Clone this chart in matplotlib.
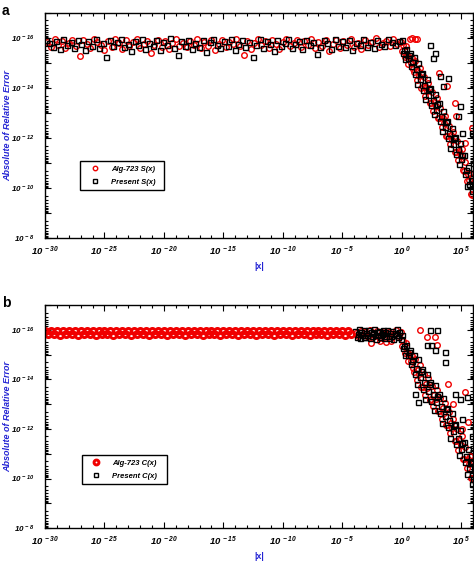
import matplotlib as mpl
mpl.use('Agg')

import numpy as np
import matplotlib.pyplot as plt
from matplotlib.ticker import FixedLocator, FuncFormatter, NullFormatter

plt.rcParams['font.family'] = ['Liberation Sans', 'DejaVu Sans']
plt.rcParams['mathtext.fontset'] = 'custom'
plt.rcParams['mathtext.rm'] = 'Liberation Sans:italic:bold'
plt.rcParams['mathtext.it'] = 'Liberation Sans:italic:bold'
plt.rcParams['mathtext.bf'] = 'Liberation Sans:italic:bold'

# all data are log10 values

# ---- panel a : S(x) ----
a_band_pre_x = [-29.95, -29.65, -29.35, -29.05, -28.75, -28.45, -28.15, -27.85, -27.55, -27.25,
                -26.95, -26.65, -26.35, -26.05, -25.75, -25.45, -25.15, -24.85, -24.55, -24.25,
                -23.95, -23.65, -23.35, -23.05, -22.75, -22.45, -22.15, -21.85, -21.55, -21.25,
                -20.95, -20.65, -20.35, -20.05, -19.75, -19.45, -19.15, -18.85, -18.55, -18.25,
                -17.95, -17.65, -17.35, -17.05, -16.75, -16.45, -16.15, -15.85, -15.55, -15.25,
                -14.95, -14.65, -14.35, -14.05, -13.75, -13.45, -13.15, -12.85, -12.55, -12.25,
                -11.95, -11.65, -11.35, -11.05, -10.75, -10.45, -10.15, -9.85, -9.55, -9.25,
                -8.95, -8.65, -8.35, -8.05, -7.75, -7.45, -7.15, -6.85, -6.55, -6.25,
                -5.95, -5.65, -5.35, -5.05, -4.75, -4.45, -4.15, -3.85, -3.55, -3.25,
                -2.95, -2.65, -2.35, -2.05, -1.75, -1.45, -1.15, -0.85, -0.55, -0.25]
a_band_pre_y = [-15.92, -15.78, -15.65, -15.88, -15.55, -15.97, -15.70, -15.83, -15.60, -15.93,
                -15.74, -15.50, -15.86, -15.68, -15.95, -15.58, -15.80, -15.22, -15.90, -15.66,
                -15.84, -15.96, -15.62, -15.75, -15.48, -15.89, -15.71, -15.94, -15.57, -15.81,
                -15.67, -15.91, -15.53, -15.85, -15.73, -15.98, -15.61, -15.30, -15.87, -15.69,
                -15.93, -15.56, -15.79, -15.64, -15.90, -15.45, -15.82, -15.95, -15.72, -15.59,
                -15.88, -15.66, -15.97, -15.52, -15.77, -15.91, -15.63, -15.84, -15.25, -15.70,
                -15.94, -15.58, -15.86, -15.74, -15.49, -15.92, -15.67, -15.81, -15.96, -15.60,
                -15.76, -15.89, -15.54, -15.93, -15.71, -15.83, -15.35, -15.65, -15.90, -15.78,
                -15.57, -15.95, -15.69, -15.87, -15.62, -15.92, -15.50, -15.80, -15.73, -15.97,
                -15.64, -15.85, -15.59, -15.91, -15.75, -15.68, -15.94, -15.82, -15.70, -15.88]
a_band_alg_x = [-29.80, -29.50, -29.20, -28.90, -28.60, -28.30, -28.00, -27.70, -27.40, -27.10,
                -26.80, -26.50, -26.20, -25.90, -25.60, -25.30, -25.00, -24.70, -24.40, -24.10,
                -23.80, -23.50, -23.20, -22.90, -22.60, -22.30, -22.00, -21.70, -21.40, -21.10,
                -20.80, -20.50, -20.20, -19.90, -19.60, -19.30, -19.00, -18.70, -18.40, -18.10,
                -17.80, -17.50, -17.20, -16.90, -16.60, -16.30, -16.00, -15.70, -15.40, -15.10,
                -14.80, -14.50, -14.20, -13.90, -13.60, -13.30, -13.00, -12.70, -12.40, -12.10,
                -11.80, -11.50, -11.20, -10.90, -10.60, -10.30, -10.00, -9.70, -9.40, -9.10,
                -8.80, -8.50, -8.20, -7.90, -7.60, -7.30, -7.00, -6.70, -6.40, -6.10,
                -5.80, -5.50, -5.20, -4.90, -4.60, -4.30, -4.00, -3.70, -3.40, -3.10,
                -2.80, -2.50, -2.20, -1.90, -1.60, -1.30, -1.00, -0.70, -0.40, -0.10]
a_band_alg_y = [-15.85, -15.62, -15.95, -15.72, -15.88, -15.58, -15.80, -15.93, -15.67, -15.28,
                -15.90, -15.76, -15.60, -15.97, -15.83, -15.70, -15.52, -15.87, -15.64, -15.94,
                -15.79, -15.56, -15.91, -15.68, -15.84, -15.96, -15.61, -15.74, -15.89, -15.40,
                -15.73, -15.92, -15.65, -15.86, -15.55, -15.81, -15.95, -15.69, -15.78, -15.63,
                -15.88, -15.71, -15.97, -15.59, -15.83, -15.66, -15.93, -15.50, -15.77, -15.90,
                -15.62, -15.85, -15.74, -15.96, -15.68, -15.32, -15.89, -15.57, -15.80, -15.94,
                -15.70, -15.87, -15.61, -15.92, -15.75, -15.54, -15.84, -15.97, -15.66, -15.79,
                -15.91, -15.63, -15.86, -15.72, -15.95, -15.58, -15.82, -15.69, -15.90, -15.47,
                -15.76, -15.93, -15.60, -15.88, -15.73, -15.96, -15.65, -15.81, -15.55, -15.92,
                -15.70, -15.85, -15.98, -15.62, -15.78, -15.89, -15.67, -15.94, -15.74, -15.83]

a_tail_pre_x = [0.0, 0.1, 0.2, 0.3, 0.4, 0.5, 0.6, 0.7, 0.8, 0.9,
                1.0, 1.1, 1.2, 1.3, 1.4, 1.5, 1.6, 1.7, 1.8, 1.9,
                2.0, 2.1, 2.2, 2.3, 2.4, 2.5, 2.6, 2.7, 2.8, 2.9,
                3.0, 3.1, 3.2, 3.3, 3.4, 3.5, 3.6, 3.7, 3.8, 3.9,
                4.0, 4.1, 4.2, 4.3, 4.4, 4.5, 4.6, 4.7, 4.8, 4.9,
                5.0, 5.1, 5.2, 5.3, 5.4, 5.5, 5.6, 5.7, 5.8, 5.9,
                2.4, 2.8, 2.6, 3.2, 3.9, 4.9, 4.7, 5.1, 3.5,
                5.95, 5.97, 5.93, 5.98]
a_tail_pre_y = [-15.90, -15.38, -15.51, -15.14, -15.57, -15.20, -15.33, -15.41, -14.89, -15.02,
                -15.25, -14.56, -14.77, -14.18, -14.99, -14.35, -14.56, -14.62, -13.93, -14.14,
                -13.55, -14.37, -13.73, -13.95, -14.01, -13.33, -13.54, -12.96, -13.77, -13.14,
                -13.35, -13.40, -12.70, -12.90, -12.30, -13.10, -12.45, -12.65, -12.70, -12.00,
                -12.20, -11.61, -12.42, -11.78, -11.99, -12.05, -11.36, -11.57, -10.98, -11.79,
                -11.15, -11.31, -11.32, -10.58, -10.74, -10.10, -10.86, -10.17, -10.33, -10.34,
                -15.70, -15.40, -15.20, -14.50, -14.40, -13.30, -12.90, -12.20, -14.10,
                -9.90, -11.00, -12.20, -10.60]
a_tail_alg_x = [0.05, 0.15, 0.25, 0.35, 0.45, 0.55, 0.65, 0.75, 0.85, 0.95,
                1.05, 1.15, 1.25, 1.35, 1.45, 1.55, 1.65, 1.75, 1.85, 1.95,
                2.05, 2.15, 2.25, 2.35, 2.45, 2.55, 2.65, 2.75, 2.85, 2.95,
                3.05, 3.15, 3.25, 3.35, 3.45, 3.55, 3.65, 3.75, 3.85, 3.95,
                4.05, 4.15, 4.25, 4.35, 4.45, 4.55, 4.65, 4.75, 4.85, 4.95,
                5.05, 5.15, 5.25, 5.35, 5.45, 5.55, 5.65, 5.75, 5.85, 5.95,
                0.7, 0.9, 1.1, 1.3, 3.8, 4.5, 4.6, 5.3, 5.9, 3.1]
a_tail_alg_y = [-15.47, -15.70, -15.23, -15.66, -15.29, -14.97, -15.25, -14.98, -15.21, -14.74,
                -14.66, -15.07, -14.33, -14.69, -14.50, -14.81, -14.02, -14.03, -14.44, -13.70,
                -14.06, -13.87, -14.19, -13.40, -13.42, -13.83, -13.10, -13.46, -13.28, -13.59,
                -12.80, -12.80, -13.20, -12.45, -12.80, -12.60, -12.90, -12.10, -12.10, -12.50,
                -11.76, -12.12, -11.93, -12.24, -11.45, -11.46, -11.87, -11.13, -11.49, -11.30,
                -11.58, -10.74, -10.70, -11.06, -10.27, -10.58, -10.34, -10.60, -9.76, -9.72,
                -15.97, -15.98, -15.95, -15.96, -14.10, -13.40, -12.90, -11.80, -12.40, -14.60]

# ---- panel b : C(x) ----
b_band_x = [-30.0, -29.75, -29.5, -29.25, -29.0, -28.75, -28.5, -28.25,
            -28.0, -27.75, -27.5, -27.25, -27.0, -26.75, -26.5, -26.25,
            -26.0, -25.75, -25.5, -25.25, -25.0, -24.75, -24.5, -24.25,
            -24.0, -23.75, -23.5, -23.25, -23.0, -22.75, -22.5, -22.25,
            -22.0, -21.75, -21.5, -21.25, -21.0, -20.75, -20.5, -20.25,
            -20.0, -19.75, -19.5, -19.25, -19.0, -18.75, -18.5, -18.25,
            -18.0, -17.75, -17.5, -17.25, -17.0, -16.75, -16.5, -16.25,
            -16.0, -15.75, -15.5, -15.25, -15.0, -14.75, -14.5, -14.25,
            -14.0, -13.75, -13.5, -13.25, -13.0, -12.75, -12.5, -12.25,
            -12.0, -11.75, -11.5, -11.25, -11.0, -10.75, -10.5, -10.25,
            -10.0, -9.75, -9.5, -9.25, -9.0, -8.75, -8.5, -8.25,
            -8.0, -7.75, -7.5, -7.25, -7.0, -6.75, -6.5, -6.25,
            -6.0, -5.75, -5.5, -5.25, -5.0, -4.75, -4.5, -4.25]
b_band_alg = [-15.97, -15.82, -15.95, -15.83, -15.97, -15.81, -15.96, -15.83,
              -15.97, -15.82, -15.96, -15.81, -15.97, -15.83, -15.95, -15.82,
              -15.97, -15.81, -15.96, -15.83, -15.97, -15.82, -15.95, -15.81,
              -15.96, -15.83, -15.97, -15.82, -15.95, -15.81, -15.97, -15.83,
              -15.96, -15.82, -15.97, -15.81, -15.95, -15.83, -15.96, -15.82,
              -15.97, -15.81, -15.96, -15.83, -15.97, -15.82, -15.95, -15.81,
              -15.96, -15.83, -15.97, -15.82, -15.95, -15.81, -15.97, -15.83,
              -15.96, -15.82, -15.97, -15.81, -15.95, -15.83, -15.96, -15.82,
              -15.97, -15.81, -15.96, -15.83, -15.97, -15.82, -15.95, -15.81,
              -15.96, -15.83, -15.97, -15.82, -15.95, -15.81, -15.97, -15.83,
              -15.96, -15.82, -15.97, -15.81, -15.95, -15.83, -15.96, -15.82,
              -15.97, -15.81, -15.96, -15.83, -15.97, -15.82, -15.95, -15.81,
              -15.96, -15.83, -15.97, -15.82, -15.95, -15.81, -15.97, -15.83]

b_mid_pre_x = [-3.9, -3.8, -3.7, -3.6, -3.5, -3.4, -3.3, -3.2, -3.1, -3.0,
               -2.9, -2.8, -2.7, -2.6, -2.5, -2.4, -2.3, -2.2, -2.1, -2.0,
               -1.9, -1.8, -1.7, -1.6, -1.5, -1.4, -1.3, -1.2, -1.1, -1.0,
               -0.9, -0.8, -0.7, -0.6, -0.5, -0.4, -0.3, -0.2, -0.1, -3.2]
b_mid_pre_y = [-15.95, -15.72, -15.85, -16.02, -15.66, -15.90, -15.78, -15.98, -15.70, -15.88,
               -15.80, -16.00, -15.68, -15.92, -15.75, -15.87, -16.03, -15.64, -15.90, -15.79,
               -15.96, -15.71, -15.84, -16.01, -15.67, -15.93, -15.76, -15.99, -15.69, -15.86,
               -15.74, -15.97, -15.62, -15.89, -15.81, -16.02, -15.73, -15.91, -15.65, -15.70]
b_mid_alg_x = [-3.85, -3.65, -3.45, -3.25, -3.05, -2.85, -2.65, -2.45, -2.25, -2.05,
               -1.85, -1.65, -1.45, -1.25, -1.05, -0.85, -0.65, -0.45, -0.25, -0.05,
               -2.6, -1.8, -1.35, -0.9]
b_mid_alg_y = [-15.88, -15.74, -15.96, -15.80, -15.90, -15.70, -15.99, -15.83, -15.76, -15.94,
               -15.68, -15.87, -15.97, -15.78, -15.92, -15.72, -15.85, -16.00, -15.75, -15.90,
               -15.47, -15.55, -15.50, -15.55]

b_tail_pre_x = [0.0, 0.1, 0.2, 0.3, 0.4, 0.5, 0.6, 0.7, 0.8, 0.9,
                1.0, 1.1, 1.2, 1.3, 1.4, 1.5, 1.6, 1.7, 1.8, 1.9,
                2.0, 2.1, 2.2, 2.3, 2.4, 2.5, 2.6, 2.7, 2.8, 2.9,
                3.0, 3.1, 3.2, 3.3, 3.4, 3.5, 3.6, 3.7, 3.8, 3.9,
                4.0, 4.1, 4.2, 4.3, 4.4, 4.5, 4.6, 4.7, 4.8, 4.9,
                5.0, 5.1, 5.2, 5.3, 5.4, 5.5, 5.6, 5.7, 5.8, 5.9,
                2.4, 2.95, 2.8, 3.6, 2.1, 2.5, 3.6, 1.1, 1.35, 4.5,
                5.5, 4.9, 5.05, 5.9, 5.95, 5.97, 5.93]
b_tail_pre_y = [-15.80, -15.26, -15.37, -14.98, -15.39, -15.00, -15.11, -15.17, -14.63, -14.74,
                -15.00, -14.22, -14.48, -13.80, -14.81, -14.08, -14.34, -14.41, -13.62, -13.89,
                -13.20, -14.24, -13.52, -13.81, -13.89, -13.13, -13.41, -12.75, -13.78, -13.07,
                -13.35, -13.42, -12.64, -12.91, -12.23, -13.25, -12.52, -12.79, -12.86, -12.08,
                -12.35, -11.65, -12.65, -11.90, -12.15, -12.20, -11.40, -11.65, -10.95, -11.95,
                -11.20, -11.44, -11.48, -10.67, -10.91, -10.20, -11.19, -10.43, -10.67, -10.71,
                -16.00, -16.00, -15.20, -14.70, -15.40, -15.40, -15.10, -13.40, -13.10, -13.40,
                -13.30, -13.20, -12.40, -11.70, -9.80, -10.00, -10.20]
b_tail_alg_x = [0.05, 0.15, 0.25, 0.35, 0.45, 0.55, 0.65, 0.75, 0.85, 0.95,
                1.05, 1.15, 1.25, 1.35, 1.45, 1.55, 1.65, 1.75, 1.85, 1.95,
                2.05, 2.15, 2.25, 2.35, 2.45, 2.55, 2.65, 2.75, 2.85, 2.95,
                3.05, 3.15, 3.25, 3.35, 3.45, 3.55, 3.65, 3.75, 3.85, 3.95,
                4.05, 4.15, 4.25, 4.35, 4.45, 4.55, 4.65, 4.75, 4.85, 4.95,
                5.05, 5.15, 5.25, 5.35, 5.45, 5.55, 5.65, 5.75, 5.85, 5.95,
                1.5, 2.1, 2.8, 2.95, 3.9, 5.3, 5.05, 4.3, 5.6]
b_tail_alg_y = [-15.36, -15.57, -15.08, -15.49, -15.10, -14.76, -15.02, -14.73, -14.94, -14.45,
                -14.31, -14.82, -13.99, -14.40, -14.22, -14.58, -13.70, -13.71, -14.23, -13.39,
                -13.82, -13.65, -14.04, -13.17, -13.21, -13.74, -12.93, -13.36, -13.20, -13.58,
                -12.71, -12.73, -13.25, -12.42, -12.84, -12.66, -13.03, -12.15, -12.17, -12.69,
                -11.85, -12.25, -12.05, -12.40, -11.50, -11.50, -12.00, -11.15, -11.55, -11.35,
                -11.70, -10.79, -10.78, -11.27, -10.41, -10.80, -10.59, -10.93, -10.02, -10.01,
                -16.00, -15.70, -15.70, -15.40, -13.80, -13.50, -12.00, -13.00, -12.30]

x_major = [-30, -25, -20, -15, -10, -5, 0, 5]
y_labelled = [-16, -14, -12, -10, -8]

red = '#f00000'
blue = '#2424d4'


def e(v):
    return 10.0 ** np.asarray(v)


def style_axes(ax):
    ax.set_xscale('log')
    ax.set_yscale('log')
    ax.set_xlim(1e-30, 1e6)
    ax.set_ylim(1e-8, 1e-17)
    ax.xaxis.set_major_locator(FixedLocator(e(x_major)))
    ax.xaxis.set_minor_locator(FixedLocator(e(np.arange(-30, 7))))
    ax.xaxis.set_major_formatter(FuncFormatter(
        lambda v, p: r'$10^{\ %d}$' % round(np.log10(v))))
    ax.xaxis.set_minor_formatter(NullFormatter())
    ax.yaxis.set_major_locator(FixedLocator(e(np.arange(-17, -7))))
    ax.yaxis.set_minor_locator(FixedLocator(
        [k * 10.0 ** n for n in range(-17, -8) for k in range(2, 10)]))
    ax.yaxis.set_major_formatter(FuncFormatter(
        lambda v, p: r'$10^{\,%d}$' % round(np.log10(v))
        if round(np.log10(v)) in y_labelled else ''))
    ax.yaxis.set_minor_formatter(NullFormatter())
    ax.tick_params(which='both', direction='in', top=True, right=True,
                   labelsize=6.8, width=0.8)
    ax.tick_params(axis='y', labelsize=5.8)
    ax.tick_params(which='major', length=4)
    ax.tick_params(which='minor', length=2)
    ax.tick_params(axis='x', which='major', pad=5)
    ax.tick_params(axis='y', which='major', pad=8)
    for s in ax.spines.values():
        s.set_linewidth(1.0)
    ax.set_xlabel('|x|', color=blue, fontsize=6.5, fontweight='bold')
    ax.xaxis.set_label_coords(0.5, -0.105)
    ax.set_ylabel('Absolute of Relative Error', color=blue, fontsize=6.5,
                  fontweight='bold', fontstyle='italic')
    ax.yaxis.set_label_coords(-0.076, 0.5)


mk_alg = dict(marker='o', ls='none', ms=4.0, mfc='none', mec=red, mew=1.0)
mk_pre = dict(marker='s', ls='none', ms=3.6, mfc='none', mec='black', mew=1.0)
mk_band = dict(mk_alg, ms=4.4, mew=2.1)

fig = plt.figure(figsize=(4.74, 5.63), dpi=100)
ax1 = fig.add_axes([0.095, 0.577, 0.903, 0.400])
ax2 = fig.add_axes([0.095, 0.062, 0.903, 0.396])

# panel a
ax1.plot(e(a_band_alg_x), e(a_band_alg_y), label='Alg-723 S(x)', **mk_alg)
ax1.plot(e(a_tail_alg_x), e(a_tail_alg_y), **mk_alg)
ax1.plot(e(a_band_pre_x), e(a_band_pre_y), label='Present S(x)', **mk_pre)
ax1.plot(e(a_tail_pre_x), e(a_tail_pre_y), **mk_pre)

# panel b
ax2.plot(e(b_mid_alg_x), e(b_mid_alg_y), **mk_alg)
ax2.plot(e(b_tail_alg_x), e(b_tail_alg_y), **mk_alg)
ax2.plot(e(b_mid_pre_x), e(b_mid_pre_y), **mk_pre)
ax2.plot(e(b_tail_pre_x), e(b_tail_pre_y), **mk_pre)
ax2.plot(e(b_band_x), e(b_band_alg), label='Alg-723 C(x)', **mk_band)
ax2.plot([], [], label='Present C(x)', **mk_pre)

for ax, anchor in [(ax1, (0.082, 0.222, 0.196, 0.12)),
                   (ax2, (0.086, 0.215, 0.198, 0.112))]:
    style_axes(ax)
    leg = ax.legend(loc='upper left', bbox_to_anchor=anchor, mode='expand',
                    fancybox=False, edgecolor='black', framealpha=1,
                    handlelength=2.6, handletextpad=0.8, borderpad=0.6,
                    labelspacing=0.7, borderaxespad=0, markerscale=0.8,
                    prop=dict(size=5.5, weight='bold', style='italic'))
    leg.get_frame().set_linewidth(1.0)

fig.text(0.004, 0.993, 'a', fontsize=10, fontweight='bold', va='top')
fig.text(0.004, 0.475, 'b', fontsize=10, fontweight='bold', va='top')

fig.savefig('out.png', dpi=100)
